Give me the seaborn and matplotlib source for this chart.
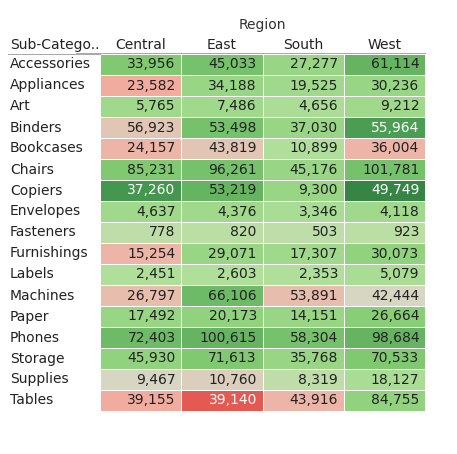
import matplotlib.pyplot as plt
import seaborn as sns
import numpy as np
from matplotlib.colors import LinearSegmentedColormap

sub_categories = ["Accessories", "Appliances", "Art", "Binders", "Bookcases", "Chairs",
                  "Copiers", "Envelopes", "Fasteners", "Furnishings", "Labels", "Machines",
                  "Paper", "Phones", "Storage", "Supplies", "Tables"]
regions = ["Central", "East", "South", "West"]

sales = np.array([
    [33956, 45033, 27277, 61114],
    [23582, 34188, 19525, 30236],
    [5765, 7486, 4656, 9212],
    [56923, 53498, 37030, 55964],
    [24157, 43819, 10899, 36004],
    [85231, 96261, 45176, 101781],
    [37260, 53219, 9300, 49749],
    [4637, 4376, 3346, 4118],
    [778, 820, 503, 923],
    [15254, 29071, 17307, 30073],
    [2451, 2603, 2353, 5079],
    [26797, 66106, 53891, 42444],
    [17492, 20173, 14151, 26664],
    [72403, 100615, 58304, 98684],
    [45930, 71613, 35768, 70533],
    [9467, 10760, 8319, 18127],
    [39155, 39140, 43916, 84755],
])

# colour measure (estimated from the cell shading, -1 red .. +1 green)
color_score = np.array([
    [0.45, 0.50, 0.30, 0.60],
    [-0.40, 0.30, 0.25, 0.30],
    [0.25, 0.25, 0.18, 0.25],
    [-0.25, 0.50, 0.30, 0.75],
    [-0.35, -0.25, 0.15, -0.35],
    [0.45, 0.50, 0.30, 0.50],
    [0.80, 0.60, 0.30, 0.90],
    [0.25, 0.25, 0.20, 0.25],
    [0.05, 0.08, 0.05, 0.08],
    [-0.35, 0.30, 0.25, 0.35],
    [0.15, 0.15, 0.15, 0.20],
    [-0.30, 0.55, -0.30, -0.15],
    [0.30, 0.35, 0.30, 0.40],
    [0.55, 0.60, 0.50, 0.60],
    [0.35, 0.45, 0.30, 0.45],
    [-0.15, -0.20, 0.05, 0.20],
    [-0.40, -0.80, -0.35, 0.35],
])

cmap = LinearSegmentedColormap.from_list(
    "rg", ["#d42a26", "#ec6f66", "#f5a89c", "#d6d8c4", "#b2e09c", "#84cc72", "#52a458", "#28763a"])

fig = plt.figure(figsize=(4.57, 4.54), dpi=100)
ax = fig.add_axes([100 / 457, 1 - 411 / 454, 325 / 457, 357 / 454])
sns.heatmap(color_score, cmap=cmap, vmin=-1, vmax=1, cbar=False, ax=ax,
            linewidths=0.6, linecolor="white", xticklabels=False, yticklabels=False)

for i in range(len(sub_categories)):
    for j in range(len(regions)):
        c = "white" if abs(color_score[i, j]) > 0.7 else "#222222"
        ax.text(j + 0.93, i + 0.5, f"{sales[i, j]:,}", ha="right", va="center",
                fontsize=10, color=c)
    fig.text(10 / 457, ax.transData.transform((0, i + 0.5))[1] / fig.bbox.height,
             sub_categories[i], ha="left", va="center", fontsize=10, color="#222222")

for j, r in enumerate(regions):
    ax.text(j + 0.5, -0.45, r, ha="center", va="center", fontsize=10, color="#222222")
ax.text(2, -1.4, "Region", ha="center", va="center", fontsize=10, color="#333333")
fig.text(10 / 457, 1 - 45 / 454, "Sub-Catego..", ha="left", va="center", fontsize=10, color="#222222")
ax.plot([-0.3, 4], [-0.05, -0.05], color="#999999", lw=0.6, clip_on=False)
fig.add_artist(plt.Line2D([8 / 457, 100 / 457], [1 - 54 / 454] * 2, color="#999999", lw=0.6))

fig.savefig("out.png", dpi=100)
